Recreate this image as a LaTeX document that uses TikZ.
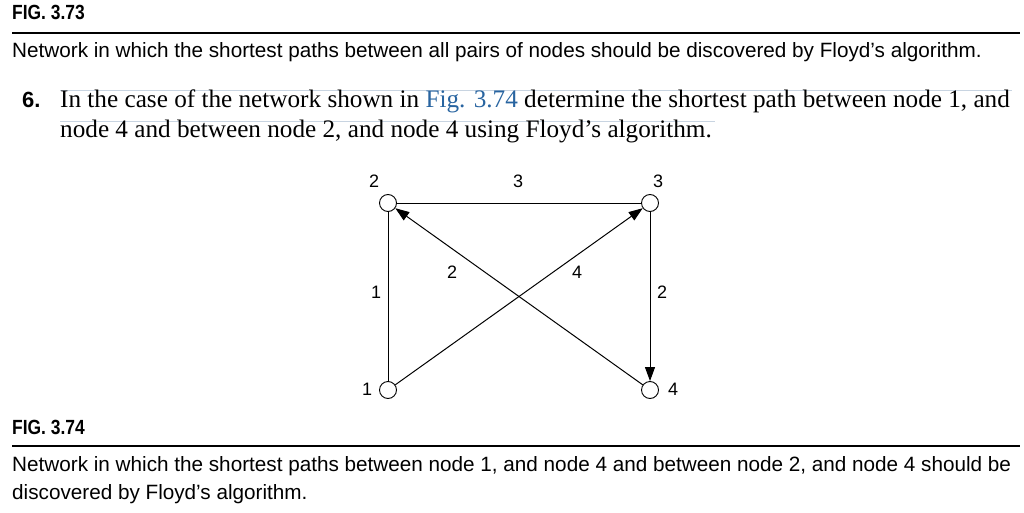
\documentclass[tikz,border=0pt]{standalone}
\usepackage{fontspec}
\setmainfont{Liberation Serif}
\setsansfont{Liberation Sans}
\usetikzlibrary{arrows.meta}
\definecolor{linkblue}{RGB}{40,100,160}
\definecolor{faint}{RGB}{200,212,225}
\begin{document}
\begin{tikzpicture}[x=1pt,y=-1pt,
  vert/.style={circle,draw,fill=white,inner sep=0pt,minimum size=17pt,line width=0.9pt},
  figlab/.style={anchor=base west,inner sep=0pt,font=\sffamily\bfseries\fontsize{20.5}{22}\selectfont,xscale=0.85},
  captext/.style={anchor=base west,inner sep=0pt,font=\sffamily\fontsize{20.7}{24}\selectfont},
  bodytext/.style={anchor=base west,inner sep=0pt,font=\fontsize{25.2}{28}\selectfont},
  lab/.style={inner sep=0pt,font=\sffamily\fontsize{18}{20}\selectfont},
  plainedge/.style={line width=1pt},
  arr/.style={plainedge,-{Triangle[length=14pt,width=10pt]}}]
\useasboundingbox (0,0) rectangle (1024,513);
% top caption
\node[figlab] (f73) at (12,20) {FIG. 3.73};
\draw[line width=1.3pt] (12,33) -- (1020,33);
\node[captext] (c73) at (12,58) {Network in which the shortest paths between all pairs of nodes should be discovered by Floyd's algorithm.};
% exercise
\draw[faint,line width=0.6pt] (60,90) -- (1012,90);
\draw[faint,line width=0.6pt] (60,121) -- (715,121);
\node[anchor=base west,inner sep=0pt,font=\sffamily\bfseries\fontsize{22}{24}\selectfont] (six) at (22,108) {6.};
\node[bodytext] (t1) at (60,108) {In the case of the network shown in \textcolor{linkblue}{Fig. 3.74} determine the shortest path between node 1, and};
\node[bodytext] (t2) at (60,138) {node 4 and between node 2, and node 4 using Floyd's algorithm.};
% graph
\node[vert] (n2) at (388,203) {};
\node[vert] (n3) at (650,203) {};
\node[vert] (n1) at (388,390) {};
\node[vert] (n4) at (650,390) {};
\draw[plainedge] (n2) -- (n3);
\draw[plainedge] (n1) -- (n2);
\draw[arr] (n1) -- (n3);
\draw[arr] (n4) -- (n2);
\draw[arr] (n3) -- (n4);
\node[lab] (l2) at (374,181) {2};
\node[lab] (l3) at (658,181) {3};
\node[lab] (l1) at (367,389) {1};
\node[lab] (l4) at (673,389) {4};
\node[lab] (e23) at (518,181) {3};
\node[lab] (e12) at (376,292) {1};
\node[lab] (e42) at (452,272) {2};
\node[lab] (e13) at (577,272) {4};
\node[lab] (e34) at (662,292) {2};
% bottom caption
\node[figlab] (f74) at (12,434) {FIG. 3.74};
\draw[line width=1.3pt] (12,446) -- (1020,446);
\node[captext] (c74a) at (12,471) {Network in which the shortest paths between node 1, and node 4 and between node 2, and node 4 should be};
\node[captext] (c74b) at (12,499) {discovered by Floyd's algorithm.};
\end{tikzpicture}
\end{document}
